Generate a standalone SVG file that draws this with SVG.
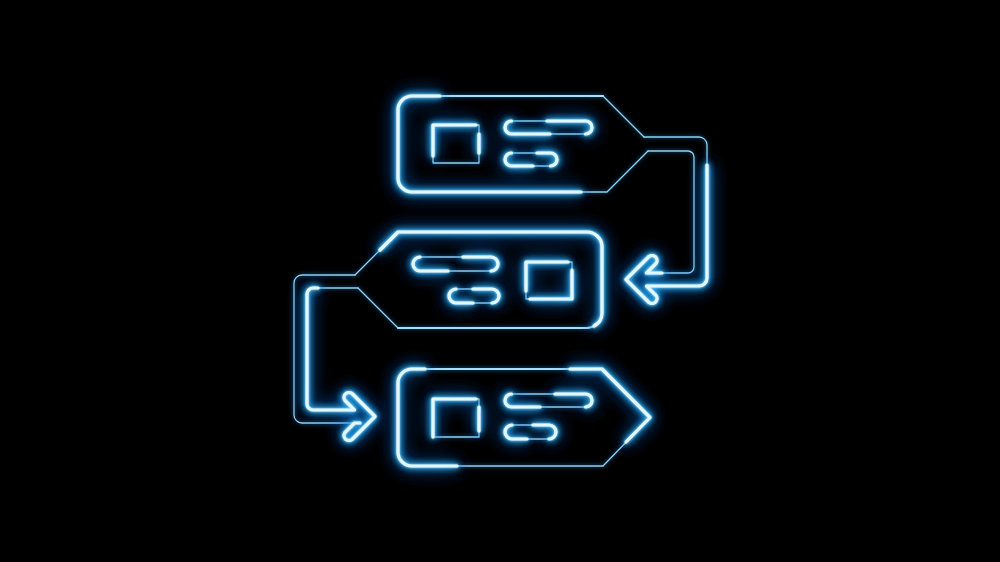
<svg xmlns="http://www.w3.org/2000/svg" width="1000" height="562" viewBox="0 0 1000 562">
<defs>
<filter id="glow" filterUnits="userSpaceOnUse" x="0" y="0" width="1000" height="562">
<feGaussianBlur in="SourceAlpha" stdDeviation="9" result="b1"/>
<feFlood flood-color="#0a7cff" flood-opacity="1"/>
<feComposite in2="b1" operator="in" result="g1"/>
<feGaussianBlur in="SourceAlpha" stdDeviation="3.5" result="b2"/>
<feFlood flood-color="#2fb8ff" flood-opacity="1"/>
<feComposite in2="b2" operator="in" result="g2"/>
<feGaussianBlur in="SourceAlpha" stdDeviation="1.2" result="b3"/>
<feFlood flood-color="#7fdcff" flood-opacity="1"/>
<feComposite in2="b3" operator="in" result="g3"/>
<feMerge><feMergeNode in="g1"/><feMergeNode in="g1"/><feMergeNode in="g2"/><feMergeNode in="g2"/><feMergeNode in="g3"/><feMergeNode in="SourceGraphic"/></feMerge>
</filter>
<filter id="soft" filterUnits="userSpaceOnUse" x="0" y="0" width="1000" height="562">
<feGaussianBlur in="SourceAlpha" stdDeviation="2" result="b"/>
<feFlood flood-color="#2aa8ff" flood-opacity="0.7"/>
<feComposite in2="b" operator="in" result="g"/>
<feMerge><feMergeNode in="g"/><feMergeNode in="SourceGraphic"/></feMerge>
</filter>
</defs>
<style>
.thin{fill:none;stroke:#8fd2f2;stroke-width:1.3;stroke-linejoin:round;stroke-linecap:round}
.mid{fill:none;stroke:#a8def7;stroke-width:2;stroke-linejoin:round;stroke-linecap:round}
.hot{fill:none;stroke:#e2f8ff;stroke-width:3.2;stroke-linejoin:round;stroke-linecap:round}
.dim{filter:url(#soft)}
.lit{filter:url(#glow)}
</style>
<rect x="0" y="0" width="1000" height="562" fill="#000"/>

<g id="connectors">
  <g id="conn-top-middle">
    <path class="thin dim" d="M 644 137 L 699 137 A 8 8 0 0 1 707 145 L 707 278 A 8 8 0 0 1 699 286 L 646.5 286 L 656 295.5 A 5 5 0 0 1 649 302.5 L 626 279.5 L 649 256.5 A 5 5 0 0 1 656 263.5 L 646.5 273 L 688 273 A 6 6 0 0 0 694 267 L 694 157 A 6 6 0 0 0 688 151 L 648 151"/>
    <g class="lit">
      <path class="hot" d="M 707 165 L 707 278 A 8 8 0 0 1 699 286 L 646.5 286 L 656 295.5 A 5 5 0 0 1 649 302.5 L 626 279.5 L 649 256.5 A 5 5 0 0 1 656 263.5 L 646.5 273 L 662 273"/>
    </g>
  </g>
  <g id="conn-middle-bottom">
    <path class="thin dim" d="M 355 275 L 302 275 A 8 8 0 0 0 294 283 L 294 415 A 8 8 0 0 0 302 423 L 354.5 423 L 345 432.5 A 5 5 0 0 0 352 439.5 L 375 416.5 L 352 393.5 A 5 5 0 0 0 345 400.5 L 354.5 410 L 313 410 A 6 6 0 0 1 307 404 L 307 294 A 6 6 0 0 1 313 288 L 358 288"/>
    <g class="lit">
      <path class="hot" d="M 318 288 L 313 288 A 6 6 0 0 0 307 294 L 307 404 A 6 6 0 0 0 313 410 L 354.5 410 L 345 400.5 A 5 5 0 0 1 352 393.5 L 375 416.5 L 352 439.5 A 5 5 0 0 1 345 432.5 L 354.5 423 L 360 423"/>
    </g>
  </g>
</g>

<g id="node-top">
  <g class="dim">
    <path class="thin" d="M 644 137 L 603 96 L 412 96 A 14 14 0 0 0 398 110 L 398 178 A 14 14 0 0 0 412 192 L 607 192 L 648 151"/>
    <path class="mid" d="M 440 96 L 603 96"/>
    <rect class="thin" x="433" y="125" width="46" height="38"/>
    <rect class="thin" x="505" y="121" width="87" height="13" rx="6.5"/>
    <rect class="thin" x="505" y="153" width="52" height="13" rx="6.5"/>
  </g>
  <g class="lit">
    <path class="hot" d="M 440 96 L 412 96 A 14 14 0 0 0 398 110 L 398 178 A 14 14 0 0 0 412 192 L 581 192"/>
    <path class="hot" d="M 433 156 L 433 125 L 476 125 M 479 134 L 479 153"/>
    <path class="hot" d="M 547 121 L 585.5 121 A 6.5 6.5 0 0 1 585.5 134 M 511.5 121 A 6.5 6.5 0 0 0 511.5 134 L 550 134"/>
    <path class="hot" d="M 537 153 L 550.5 153 A 6.5 6.5 0 0 1 550.5 166 M 511.5 153 A 6.5 6.5 0 0 0 511.5 166 L 533 166"/>
  </g>
</g>

<g id="node-middle">
  <g class="dim">
    <path class="thin" d="M 355 275 L 398 232 L 587 232 A 15 15 0 0 1 602 247 L 602 313 A 15 15 0 0 1 587 328 L 398 328 L 358 288"/>
    <path class="mid" d="M 592 327 L 587 328 L 398 328"/>
    <rect class="thin" x="526" y="262" width="46" height="37"/>
    <rect class="thin" x="413" y="257" width="85" height="14" rx="7"/>
    <rect class="thin" x="449" y="289" width="50" height="14" rx="7"/>
  </g>
  <g class="lit">
    <path class="hot" d="M 380 250 L 398 232 L 587 232 A 15 15 0 0 1 602 247 L 602 313 A 15 15 0 0 1 594 326"/>
    <path class="hot" d="M 526 291 L 526 262 L 568 262 M 572 270 L 572 299 L 530 299"/>
    <path class="hot" d="M 463 257 L 491 257 A 7 7 0 0 1 491 271 M 420 257 A 7 7 0 0 0 420 271 L 448 271"/>
    <path class="hot" d="M 473 289 L 492 289 A 7 7 0 0 1 492 303 M 456 289 A 7 7 0 0 0 456 303 L 473 303"/>
  </g>
</g>

<g id="node-bottom">
  <g class="dim">
    <path class="thin" d="M 412 369 L 602 369 L 650 417.5 L 603 466 L 412 466 A 14 14 0 0 1 398 452 L 398 383 A 14 14 0 0 1 412 369 Z"/>
    <path class="mid" d="M 425 369 L 570 369"/>
    <rect class="thin" x="433" y="399" width="46" height="38"/>
    <rect class="thin" x="505" y="394" width="87" height="13" rx="6.5"/>
    <rect class="thin" x="505" y="425" width="51" height="14" rx="7"/>
  </g>
  <g class="lit">
    <path class="hot" d="M 570 369 L 602 369 L 650 417.5 L 626 442"/>
    <path class="hot" d="M 457 466 L 412 466 A 14 14 0 0 1 398 452 L 398 383 A 14 14 0 0 1 412 369 L 425 369"/>
    <path class="hot" d="M 433 437 L 433 399 L 476 399 M 479 407 L 479 431"/>
    <path class="hot" d="M 555 394 L 585.5 394 A 6.5 6.5 0 0 1 585.5 407 M 511.5 394 A 6.5 6.5 0 0 0 511.5 407 L 540 407"/>
    <path class="hot" d="M 533 425 L 549 425 A 7 7 0 0 1 549 439 M 512 425 A 7 7 0 0 0 512 439 L 527 439"/>
  </g>
</g>
</svg>
